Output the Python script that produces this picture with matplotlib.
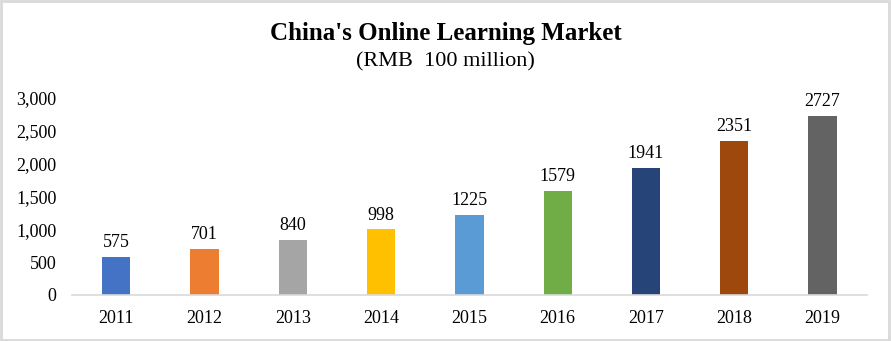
import matplotlib
import numpy as np

matplotlib.use("Agg")

from matplotlib import pyplot as plt
from matplotlib.patches import Rectangle
from matplotlib.ticker import FuncFormatter

years = ["2011", "2012", "2013", "2014", "2015", "2016", "2017", "2018", "2019"]
market_size = [575, 701, 840, 998, 1225, 1579, 1941, 2351, 2727]
bar_colors = ["#4472C4", "#ED7D31", "#A5A5A5", "#FFC000", "#5B9BD5",
              "#70AD47", "#264478", "#9E480E", "#636363"]

plt.rcParams["font.family"] = ["Liberation Serif", "DejaVu Serif"]

figure = plt.figure(figsize=(8.91, 3.41), dpi=100)
axis = figure.add_axes([0.0808, 0.135, 0.892, 0.5774])

x_positions = np.arange(len(years))
bars = axis.bar(x_positions, market_size, width=0.32, color=bar_colors)
for bar, value in zip(bars, market_size):
    axis.text(bar.get_x() + bar.get_width() / 2, value + 90, str(value),
              ha="center", va="bottom", fontsize=13)

axis.set_xlim(-0.5, len(years) - 0.5)
axis.set_ylim(0, 3000)
axis.set_yticks(np.arange(0, 3001, 500))
axis.yaxis.set_major_formatter(FuncFormatter(lambda v, _: f"{int(v):,}"))
axis.set_xticks(x_positions)
axis.set_xticklabels(years)
axis.tick_params(axis="both", length=0, labelsize=13)
axis.tick_params(axis="x", pad=11)
axis.tick_params(axis="y", pad=11)
for side in ("top", "right", "left"):
    axis.spines[side].set_visible(False)
axis.spines["bottom"].set_color("#D9D9D9")
axis.spines["bottom"].set_linewidth(1.2)

figure.text(0.5, 0.903, "China's Online Learning Market", ha="center", va="center",
            fontsize=18, fontweight="bold")
figure.text(0.5, 0.82, "(RMB  100 million)", ha="center", va="center", fontsize=16)

figure.patches.append(Rectangle((0.001, 0.002), 0.997, 0.995, transform=figure.transFigure,
                                fill=False, edgecolor="#D9D9D9", linewidth=2))

figure.savefig("out.png", dpi=100)
plt.close(figure)
